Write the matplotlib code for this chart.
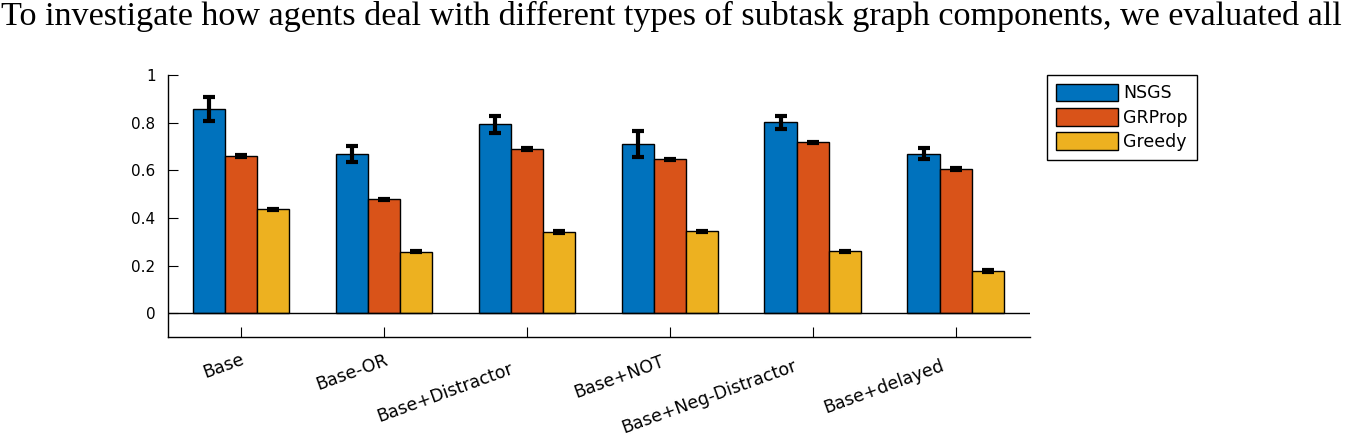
import matplotlib
matplotlib.use('Agg')
import matplotlib.pyplot as plt
from matplotlib.transforms import ScaledTranslation
import numpy as np

# data
categories = ['Base', 'Base-OR', 'Base+Distractor', 'Base+NOT',
              'Base+Neg-Distractor', 'Base+delayed']
methods = ['NSGS', 'GRProp', 'Greedy']
nsgs = [0.856, 0.667, 0.793, 0.710, 0.801, 0.669]
nsgs_err = [0.050, 0.034, 0.036, 0.054, 0.028, 0.023]
grprop = [0.660, 0.478, 0.689, 0.646, 0.717, 0.605]
grprop_err = [0.003, 0.003, 0.003, 0.003, 0.003, 0.003]
greedy = [0.436, 0.258, 0.341, 0.343, 0.259, 0.178]
greedy_err = [0.003, 0.003, 0.003, 0.003, 0.003, 0.003]
yticks = [0, 0.2, 0.4, 0.6, 0.8, 1]
caption = ('To investigate how agents deal with different types of subtask '
           'graph components, we evaluated all')

colors = ['#0072BD', '#D95319', '#EDB120']
# pixel nudges for the rotated tick labels (as laid out in the reference)
label_dx = [0, 0, -17, -9, -20, -15]
label_dy = [1, 0, -9, -2, -6, -6]
W, H = 1359, 448

fig = plt.figure(figsize=(W / 100, H / 100), dpi=100)
ax = fig.add_axes([168 / W, 1 - 337 / H, (1030 - 168) / W, (337 - 75) / H])

x = np.arange(1, len(categories) + 1)
series = [(nsgs, nsgs_err), (grprop, grprop_err), (greedy, greedy_err)]
offs = [-0.225, 0.0, 0.225]
for (vals, errs), off, c, name in zip(series, offs, colors, methods):
    ax.bar(x + off, vals, width=0.225, color=c, edgecolor='k',
           linewidth=1.0, label=name, zorder=2)
    ax.errorbar(x + off, vals, yerr=errs, fmt='none', ecolor='k',
                elinewidth=3.0, capsize=4.6, capthick=3.0, zorder=3)

ax.axhline(0, color='k', linewidth=1.0, zorder=4)
ax.set_xlim(0.49, 6.52)
ax.set_ylim(-0.1, 1.0)
ax.set_yticks(yticks)
ax.set_yticklabels([('%g' % v) for v in yticks], fontsize=11)
ax.set_xticks(x)
ax.tick_params(axis='both', direction='in', length=7, width=0.8,
               color='k')
ax.tick_params(axis='x', pad=10)
ax.tick_params(axis='y', pad=9)
ax.set_xticklabels(categories, rotation=20, ha='right', va='top',
                   rotation_mode='anchor', fontsize=12.5)
for lab, dx, dy in zip(ax.get_xticklabels(), label_dx, label_dy):
    lab.set_transform(lab.get_transform() +
                      ScaledTranslation(dx / 100, dy / 100,
                                        fig.dpi_scale_trans))
for s in ['top', 'right']:
    ax.spines[s].set_visible(False)
for s in ['left', 'bottom']:
    ax.spines[s].set_linewidth(1.0)

leg = ax.legend(loc='upper left', bbox_to_anchor=(1047 / W, 1 - 75 / H),
                bbox_transform=fig.transFigure, fontsize=12.5,
                fancybox=False, edgecolor='k', framealpha=1,
                handlelength=3.6, handleheight=1.2, handletextpad=0.3,
                labelspacing=0.32, borderpad=0.5, borderaxespad=0)
leg.get_frame().set_linewidth(1.0)

fig.text(1 / W, 1 - 1 / H, caption, ha='left', va='top',
         fontsize=24.6, family='Liberation Serif')

fig.savefig('out.png', dpi=100)
